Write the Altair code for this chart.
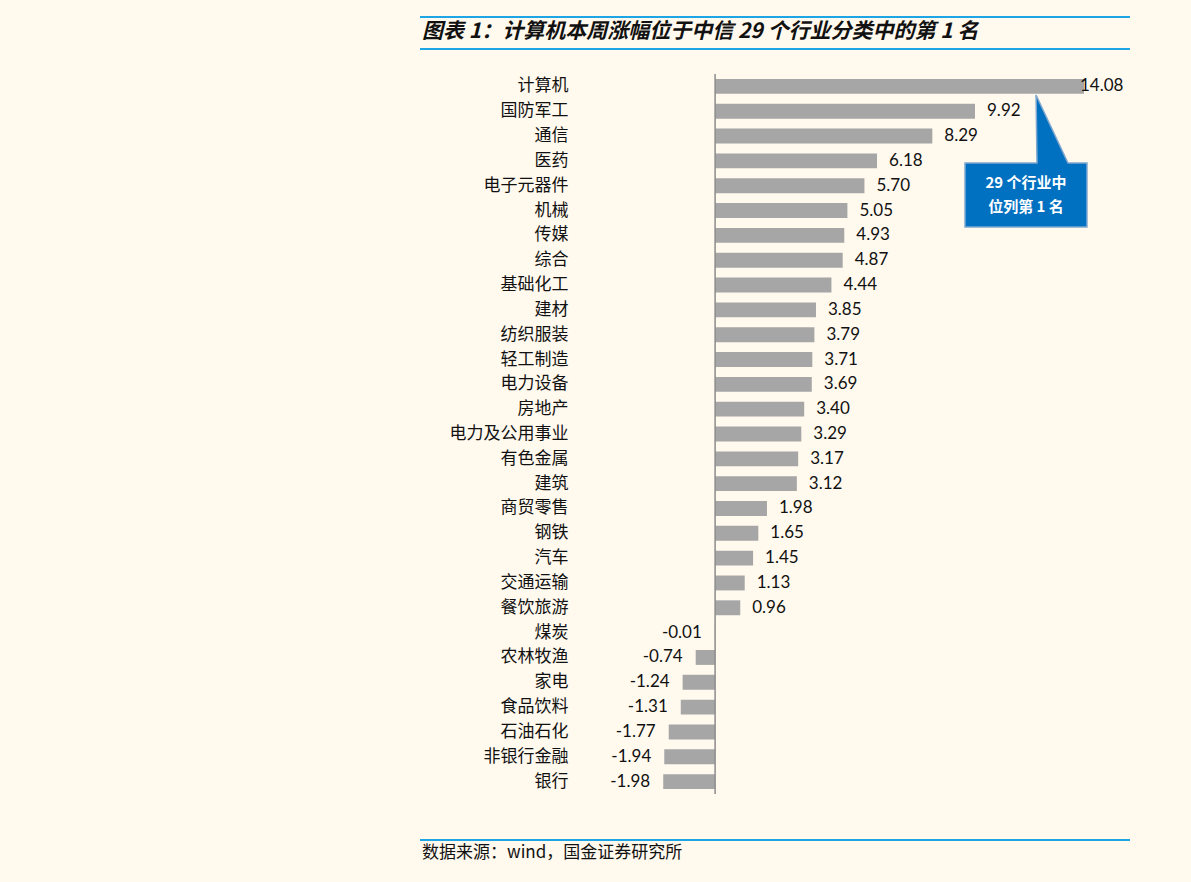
import altair as alt
import pandas as pd

industries = ["计算机", "国防军工", "通信", "医药", "电子元器件", "机械", "传媒", "综合",
              "基础化工", "建材", "纺织服装", "轻工制造", "电力设备", "房地产", "电力及公用事业",
              "有色金属", "建筑", "商贸零售", "钢铁", "汽车", "交通运输", "餐饮旅游", "煤炭",
              "农林牧渔", "家电", "食品饮料", "石油石化", "非银行金融", "银行"]
values = [14.08, 9.92, 8.29, 6.18, 5.70, 5.05, 4.93, 4.87, 4.44, 3.85, 3.79, 3.71, 3.69,
          3.40, 3.29, 3.17, 3.12, 1.98, 1.65, 1.45, 1.13, 0.96, -0.01, -0.74, -1.24, -1.31,
          -1.77, -1.94, -1.98]

title_text = "图表 1：计算机本周涨幅位于中信 29 个行业分类中的第 1 名"
source_text = "数据来源：wind，国金证券研究所"
callout_lines = ["29 个行业中", "位列第 1 名"]

df = pd.DataFrame({"industry": industries, "value": values})
top_value = max(values)

BG = "#FFF9EE"
BLUE_LINE = "#1EA5E6"
CJK = "Noto Sans CJK SC"

x_scale = alt.Scale(domain=[-5.5, 14.5], nice=False, zero=False)
y_enc = alt.Y("industry:N", sort=industries,
              scale=alt.Scale(paddingInner=0.4, paddingOuter=0.2),
              axis=alt.Axis(title=None, domain=False, ticks=False, labelPadding=3,
                            labelFont=CJK, labelFontSize=17, labelColor="#111111",
                            grid=False))

base = alt.Chart(df).transform_calculate(
    label="replace(format(datum.value, '.2f'), '\u2212', '-')"
)

bars = alt.Chart(df).mark_bar(color="#A6A6A6").encode(
    x=alt.X("value:Q", scale=x_scale, axis=None),
    x2=alt.datum(0),
    y=y_enc,
)

zero_rule = alt.Chart(pd.DataFrame({"z": [0]})).mark_rule(color="#8C8C8C", strokeWidth=1.5).encode(
    x=alt.X("z:Q", scale=x_scale, axis=None)
)

txt_kw = dict(font="Lato", fontSize=17, color="#111111", baseline="middle")

pos_labels = base.transform_filter(
    (alt.datum.value >= 0) & (alt.datum.value < top_value)
).mark_text(align="left", dx=12, **txt_kw).encode(
    x=alt.X("value:Q", scale=x_scale, axis=None),
    y=y_enc,
    text="label:N",
)

top_label = base.transform_filter(alt.datum.value >= top_value).mark_text(
    align="left", dx=-4, **txt_kw).encode(
    x=alt.X("value:Q", scale=x_scale, axis=None),
    y=y_enc,
    text="label:N",
)

neg_labels = base.transform_filter(alt.datum.value < 0).mark_text(
    align="right", dx=-13, **txt_kw).encode(
    x=alt.X("value:Q", scale=x_scale, axis=None),
    y=y_enc,
    text="label:N",
)

one = pd.DataFrame({"a": [0]})

# callout bubble (box + pointer) as custom symbol path
callout_path = ("M-0.924,0.030 L0.167,0.030 L0.152,-1 L0.636,0.030 L0.924,0.030 "
                "L0.924,1 L-0.924,1 Z")
callout = alt.Chart(one).mark_point(
    shape=callout_path, size=17424, filled=True, fill="#0070C0", stroke="#7FA7CF",
    strokeWidth=1.5, opacity=1
).encode(x=alt.value(455), y=alt.value(87))

callout_t1 = alt.Chart(one).mark_text(
    text=callout_lines[0], font=CJK, fontSize=15, fontWeight="bold", color="white",
    align="center", baseline="middle"
).encode(x=alt.value(455), y=alt.value(109))
callout_t2 = alt.Chart(one).mark_text(
    text=callout_lines[1], font=CJK, fontSize=15, fontWeight="bold", color="white",
    align="center", baseline="middle"
).encode(x=alt.value(455), y=alt.value(133))

title = alt.Chart(one).mark_text(
    text=title_text, font=CJK, fontSize=21, fontWeight="bold", fontStyle="italic",
    color="#111111", align="left", baseline="middle"
).encode(x=alt.value(-149), y=alt.value(-42))

source = alt.Chart(one).mark_text(
    text=source_text, font=CJK, fontSize=17, color="#111111", align="left",
    baseline="middle"
).encode(x=alt.value(-149), y=alt.value(779))

line_top = alt.Chart(one).mark_rule(color=BLUE_LINE, strokeWidth=2).encode(
    x=alt.value(-151), x2=alt.value(559), y=alt.value(-57))
line_mid = alt.Chart(one).mark_rule(color=BLUE_LINE, strokeWidth=2).encode(
    x=alt.value(-151), x2=alt.value(559), y=alt.value(-25))
line_bot = alt.Chart(one).mark_rule(color=BLUE_LINE, strokeWidth=2).encode(
    x=alt.value(-151), x2=alt.value(559), y=alt.value(766))

chart = alt.layer(
    bars, zero_rule, pos_labels, top_label, neg_labels, callout, callout_t1, callout_t2,
    title, source, line_top, line_mid, line_bot
).properties(
    width=524, height=720,
    autosize="none",
    padding={"left": 571, "top": 74, "right": 96, "bottom": 88},
    background=BG,
).configure_view(stroke=None)

chart.save("out.html", embed_options={"renderer": "svg", "actions": False})
